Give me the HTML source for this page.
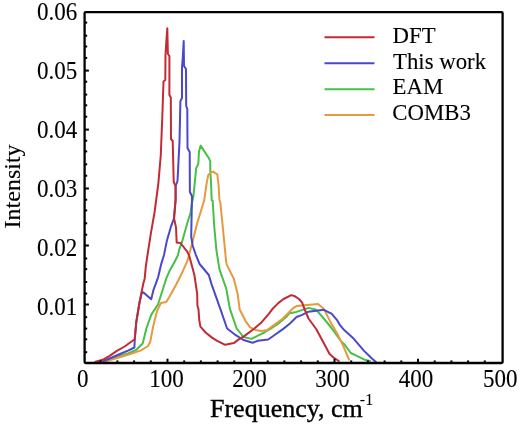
<!DOCTYPE html>
<html><head><meta charset="utf-8"><style>
html,body{margin:0;padding:0;background:#fff;}
svg{display:block;}
text{font-family:"Liberation Serif","Times New Roman",serif;fill:#000;stroke:#000;stroke-width:0.1px;}
</style></head><body>
<svg width="520" height="427" viewBox="0 0 520 427">
<rect x="0" y="0" width="520" height="427" fill="#fff"/>
<g fill="none" stroke-width="2.0" stroke-linejoin="round" stroke-linecap="round">
<polyline stroke="#46c046" points="97.5,362.0 107.3,359.8 116.5,356.9 128.0,353.5 136.1,350.0 142.7,343.5 146.5,328.0 151.3,314.6 158.1,304.2 162.2,291.3 166.3,278.4 169.9,270.2 174.5,262.0 178.1,255.0 179.0,250.2 182.0,241.9 187.4,222.8 190.6,212.7 192.0,203.0 193.4,196.2 194.8,182.1 196.2,168.1 198.3,163.9 199.0,151.2 200.7,145.6 208.9,158.3 210.3,161.1 210.3,170.9 211.0,182.1 211.7,200.0 212.7,201.0 214.2,226.0 216.4,250.0 219.4,269.2 226.2,288.5 230.0,309.2 236.7,328.5 243.5,337.0 251.4,338.9 257.9,335.7 264.3,332.5 270.7,328.6 278.5,323.5 286.2,317.0 289.4,313.2 296.5,311.9 308.5,307.9 316.2,309.8 323.8,318.5 331.5,328.0 341.2,341.5 344.2,344.2 350.8,353.0 356.3,355.7 364.4,359.7 370.0,361.0"/>
<polyline stroke="#e69a40" points="101.5,362.0 109.6,360.4 118.8,357.5 130.4,354.0 141.0,350.4 148.0,346.0 150.3,341.5 153.2,326.2 157.1,310.8 160.9,303.0 166.3,301.9 169.9,296.0 175.7,285.5 181.6,273.8 187.4,260.9 192.0,244.1 193.5,238.0 197.3,222.8 204.1,200.8 206.8,182.1 208.2,175.1 211.0,172.3 213.1,171.6 217.3,174.4 218.7,186.3 219.4,200.0 220.4,203.0 226.2,262.0 227.1,265.4 233.8,278.8 237.7,294.2 239.6,309.2 245.4,320.8 250.1,327.3 255.3,329.9 261.0,331.0 267.5,329.9 275.9,323.5 282.3,319.0 288.1,313.2 292.6,308.7 296.5,306.1 301.6,305.4 318.0,304.0 323.8,308.8 329.6,320.4 337.3,333.8 343.0,345.4 349.0,359.5"/>
<polyline stroke="#4a48cc" points="103.8,361.0 111.9,357.5 120.0,354.0 128.0,350.6 134.4,347.5 134.8,339.0 136.3,322.0 139.6,302.0 141.8,292.8 143.2,292.2 151.2,299.3 153.4,290.2 158.1,277.3 161.1,264.4 164.0,255.0 166.8,241.1 170.7,227.4 174.0,218.3 175.6,200.0 175.6,186.0 177.5,181.0 179.5,141.5 180.4,101.0 182.0,98.0 182.0,68.0 182.8,57.0 183.7,41.1 184.0,66.0 186.0,69.0 186.2,106.0 187.3,109.0 187.5,148.0 189.7,152.0 189.9,192.0 192.0,196.2 191.2,236.5 192.7,245.7 195.8,254.8 199.6,264.0 208.8,275.0 211.7,284.6 220.4,309.2 227.1,328.5 235.8,335.2 243.5,340.0 252.7,342.8 257.9,340.8 268.2,339.5 274.6,335.0 283.6,328.6 290.0,323.5 296.5,317.0 301.6,315.1 308.5,311.7 323.8,309.8 331.5,313.7 337.3,320.4 340.2,325.4 344.2,330.1 352.7,337.7 364.3,351.1 372.5,359.0 376.5,362.4"/>
<polyline stroke="#c22b35" points="95.5,361.7 102.7,359.8 109.6,355.8 116.5,351.1 124.6,346.5 134.7,339.2 136.3,322.0 139.6,302.0 141.8,291.0 143.2,284.0 144.7,278.4 145.8,266.7 147.5,255.0 151.0,232.7 154.6,212.0 158.3,183.8 160.8,155.0 161.3,142.0 162.3,117.0 163.5,81.5 165.3,80.0 165.5,55.0 166.3,42.0 167.3,28.2 167.9,54.0 169.4,56.0 169.4,95.0 170.8,97.5 171.0,139.0 172.7,141.0 173.7,182.0 175.6,186.0 175.6,200.0 174.0,218.3 176.0,227.4 176.7,242.6 180.5,243.0 187.4,251.8 189.2,255.8 194.4,275.0 197.2,293.9 197.4,305.4 198.5,309.3 199.2,319.6 200.4,326.7 205.6,332.5 212.0,337.6 217.2,340.8 225.2,344.8 233.8,343.1 238.4,339.6 244.2,336.1 253.4,329.2 261.7,322.2 268.8,313.8 272.7,308.7 278.5,302.9 283.6,299.0 291.3,295.1 295.0,296.3 299.0,299.0 302.3,302.9 303.7,307.0 308.5,318.5 316.2,329.0 322.9,341.5 329.6,354.0 333.5,357.5 338.8,361.0"/>
</g>
<g stroke="#000" stroke-width="2.3" fill="none">
<rect x="84.6" y="12.2" width="418.0" height="350.8" rx="1"/>
</g>
<g stroke="#000" stroke-width="2" fill="none">
<line x1="84.6" y1="352.20" x2="87.2" y2="352.20"/><line x1="84.6" y1="339.30" x2="87.2" y2="339.30"/><line x1="84.6" y1="328.60" x2="87.2" y2="328.60"/><line x1="84.6" y1="317.20" x2="87.2" y2="317.20"/><line x1="84.6" y1="304.50" x2="88.9" y2="304.50"/><line x1="84.6" y1="293.50" x2="87.2" y2="293.50"/><line x1="84.6" y1="282.00" x2="87.2" y2="282.00"/><line x1="84.6" y1="269.10" x2="87.2" y2="269.10"/><line x1="84.6" y1="258.50" x2="87.2" y2="258.50"/><line x1="84.6" y1="245.50" x2="88.9" y2="245.50"/><line x1="84.6" y1="234.70" x2="87.2" y2="234.70"/><line x1="84.6" y1="223.30" x2="87.2" y2="223.30"/><line x1="84.6" y1="210.40" x2="87.2" y2="210.40"/><line x1="84.6" y1="199.70" x2="87.2" y2="199.70"/><line x1="84.6" y1="188.50" x2="88.9" y2="188.50"/><line x1="84.6" y1="175.70" x2="87.2" y2="175.70"/><line x1="84.6" y1="164.30" x2="87.2" y2="164.30"/><line x1="84.6" y1="151.40" x2="87.2" y2="151.40"/><line x1="84.6" y1="140.70" x2="87.2" y2="140.70"/><line x1="84.6" y1="129.60" x2="88.9" y2="129.60"/><line x1="84.6" y1="116.70" x2="87.2" y2="116.70"/><line x1="84.6" y1="105.30" x2="87.2" y2="105.30"/><line x1="84.6" y1="94.60" x2="87.2" y2="94.60"/><line x1="84.6" y1="81.70" x2="87.2" y2="81.70"/><line x1="84.6" y1="70.60" x2="88.9" y2="70.60"/><line x1="84.6" y1="57.90" x2="87.2" y2="57.90"/><line x1="84.6" y1="46.50" x2="87.2" y2="46.50"/><line x1="84.6" y1="35.70" x2="87.2" y2="35.70"/><line x1="84.6" y1="22.60" x2="87.2" y2="22.60"/><line x1="100.70" y1="363.0" x2="100.70" y2="360.4"/><line x1="117.40" y1="363.0" x2="117.40" y2="360.4"/><line x1="134.10" y1="363.0" x2="134.10" y2="360.4"/><line x1="150.80" y1="363.0" x2="150.80" y2="360.4"/><line x1="167.50" y1="363.0" x2="167.50" y2="358.7"/><line x1="184.20" y1="363.0" x2="184.20" y2="360.4"/><line x1="200.90" y1="363.0" x2="200.90" y2="360.4"/><line x1="217.60" y1="363.0" x2="217.60" y2="360.4"/><line x1="234.30" y1="363.0" x2="234.30" y2="360.4"/><line x1="251.00" y1="363.0" x2="251.00" y2="358.7"/><line x1="267.70" y1="363.0" x2="267.70" y2="360.4"/><line x1="284.40" y1="363.0" x2="284.40" y2="360.4"/><line x1="301.10" y1="363.0" x2="301.10" y2="360.4"/><line x1="317.80" y1="363.0" x2="317.80" y2="360.4"/><line x1="334.50" y1="363.0" x2="334.50" y2="358.7"/><line x1="351.20" y1="363.0" x2="351.20" y2="360.4"/><line x1="367.90" y1="363.0" x2="367.90" y2="360.4"/><line x1="384.60" y1="363.0" x2="384.60" y2="360.4"/><line x1="401.30" y1="363.0" x2="401.30" y2="360.4"/><line x1="418.00" y1="363.0" x2="418.00" y2="358.7"/><line x1="434.70" y1="363.0" x2="434.70" y2="360.4"/><line x1="451.40" y1="363.0" x2="451.40" y2="360.4"/><line x1="468.10" y1="363.0" x2="468.10" y2="360.4"/><line x1="484.80" y1="363.0" x2="484.80" y2="360.4"/>
</g>
<g font-size="23">
<text transform="translate(77.2,315.2) scale(1,1.06)" text-anchor="end">0.01</text><text transform="translate(77.2,256.1) scale(1,1.06)" text-anchor="end">0.02</text><text transform="translate(77.2,197.3) scale(1,1.06)" text-anchor="end">0.03</text><text transform="translate(77.2,138.2) scale(1,1.06)" text-anchor="end">0.04</text><text transform="translate(77.2,79.4) scale(1,1.06)" text-anchor="end">0.05</text><text transform="translate(77.2,20.3) scale(1,1.06)" text-anchor="end">0.06</text>
<text transform="translate(82.7,387.0) scale(1,1.06)" text-anchor="middle">0</text><text transform="translate(166.6,387.0) scale(1,1.06)" text-anchor="middle">100</text><text transform="translate(249.5,387.0) scale(1,1.06)" text-anchor="middle">200</text><text transform="translate(332.4,387.0) scale(1,1.06)" text-anchor="middle">300</text><text transform="translate(416.1,387.0) scale(1,1.06)" text-anchor="middle">400</text><text transform="translate(500.3,387.0) scale(1,1.06)" text-anchor="middle">500</text>
</g>
<g fill="none" stroke-width="2.0">
<line x1="324.5" y1="37.3" x2="374.5" y2="37.3" stroke="#c22b35"/>
<line x1="324.5" y1="63.3" x2="374.5" y2="63.3" stroke="#4a48cc"/>
<line x1="324.5" y1="89.3" x2="374.5" y2="89.3" stroke="#46c046"/>
<line x1="324.5" y1="115" x2="374.5" y2="115" stroke="#e69a40"/>
</g>
<g font-size="22.8">
<text x="392.5" y="42.6">DFT</text>
<text x="393" y="68.5">This work</text>
<text x="392.5" y="94.4">EAM</text>
<text x="392.3" y="120.4">COMB3</text>
</g>
<text x="210" y="417.4" font-size="26" style="stroke-width:0.4px">Frequency, cm</text>
<text x="359.8" y="404.6" font-size="16">-1</text>
<text transform="translate(20.3,228.4) rotate(-90)" font-size="24">Intensity</text>
</svg>
</body></html>
